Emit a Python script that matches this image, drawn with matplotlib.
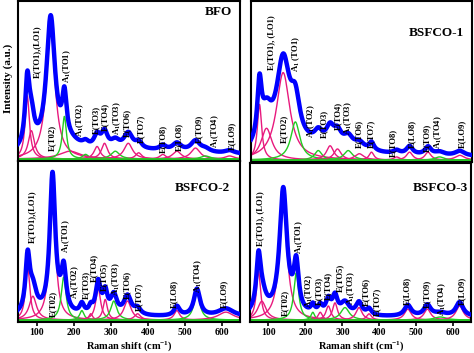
import numpy as np
import matplotlib
matplotlib.use('Agg')
import matplotlib.pyplot as plt

# Fitted Lorentzian components (centre cm-1, height, half width, colour group)
# group: 'm' = E modes (pink), 'g' = A1 modes (green)
bfo_pos = [75, 86, 138, 190, 175, 232, 263, 283, 312, 347, 375, 440, 478, 528, 555, 620]
bfo_amp = [0.40, 0.18, 0.84, 0.05, 0.27, 0.03, 0.08, 0.10, 0.05, 0.10, 0.04, 0.03, 0.05, 0.07, 0.02, 0.02]
bfo_wid = [7, 10, 14, 35, 7, 10, 10, 10, 14, 14, 10, 10, 14, 15, 15, 15]
bfo_grp = ['m', 'm', 'm', 'm', 'g', 'g', 'm', 'm', 'g', 'm', 'm', 'm', 'm', 'm', 'g', 'm']
bfo_bg = (0.025, 0.025, 380, 150)   # constant, broad hump height, centre, half width

s1_pos = [73, 92, 137, 170, 232, 264, 284, 313, 343, 376, 444, 479, 529, 560, 615]
s1_amp = [0.35, 0.20, 0.55, 0.24, 0.06, 0.09, 0.07, 0.06, 0.04, 0.05, 0.02, 0.05, 0.05, 0.02, 0.03]
s1_wid = [7, 18, 22, 15, 12, 12, 12, 14, 15, 8, 10, 10, 10, 15, 15]
s1_grp = ['m', 'm', 'm', 'g', 'g', 'm', 'm', 'g', 'm', 'm', 'm', 'm', 'm', 'g', 'm']
s1_bg = (0.02, 0.07, 260, 90)

s2_pos = [76, 90, 143, 173, 222, 246, 266, 285, 308, 345, 372, 478, 532, 610]
s2_amp = [0.34, 0.15, 0.88, 0.27, 0.06, 0.04, 0.20, 0.13, 0.12, 0.12, 0.04, 0.06, 0.17, 0.05]
s2_wid = [7, 12, 9, 8, 7, 6, 8, 7, 10, 12, 10, 9, 10, 25]
s2_grp = ['m', 'm', 'm', 'g', 'g', 'm', 'm', 'm', 'g', 'm', 'm', 'm', 'g', 'm']
s2_bg = (0.02, 0.0, 300, 100)

s3_pos = [73, 82, 140, 175, 220, 240, 262, 280, 307, 345, 372, 477, 530, 565, 617]
s3_amp = [0.31, 0.12, 0.80, 0.30, 0.05, 0.05, 0.09, 0.11, 0.08, 0.08, 0.04, 0.07, 0.07, 0.02, 0.09]
s3_wid = [7, 14, 12, 8, 6, 7, 8, 8, 14, 10, 8, 11, 11, 20, 12]
s3_grp = ['m', 'm', 'm', 'g', 'g', 'm', 'm', 'm', 'g', 'm', 'm', 'm', 'm', 'g', 'm']
s3_bg = (0.02, 0.0, 300, 100)

# Mode labels: text, x position (cm-1), bottom of label (axes fraction)
bfo_labels = [('E(TO1),(LO1)', 101, 0.52), ('E(T02)', 142, 0.06), ('A$_1$(TO1)', 182, 0.49),
              ('A$_1$(TO2)', 218, 0.15), ('E(TO3)', 261, 0.17), ('E(TO4)', 285, 0.19),
              ('A$_1$(TO3)', 318, 0.16), ('E(TO6)', 344, 0.15), ('E(TO7)', 382, 0.11),
              ('E(TO8)', 442, 0.05), ('E(LO8)', 485, 0.06), ('E(TO9)', 537, 0.11),
              ('A$_1$(TO4)', 580, 0.08), ('E(LO9)', 626, 0.07)]
s1_labels = [('E(TO1), (LO1)', 104, 0.57), ('E(TO2)', 140, 0.12), ('A$_1$ (TO1)', 172, 0.56),
             ('A$_1$(TO2)', 213, 0.15), ('E(TO3)', 248, 0.15), ('E(TO4)', 286, 0.20),
             ('A$_1$(TO3)', 313, 0.17), ('E(TO6)', 343, 0.09), ('E(TO7)', 376, 0.09),
             ('E(TO8)', 435, 0.03), ('E(LO8)', 487, 0.09), ('E(TO9)', 525, 0.06),
             ('A$_1$(TO4)', 557, 0.08), ('E(LO9)', 620, 0.09)]
s2_labels = [('E(TO1),(LO1)', 87, 0.49), ('E(T02)', 144, 0.03), ('A$_1$(TO1)', 180, 0.43),
             ('A$_1$(TO2)', 203, 0.14), ('E(TO3)', 232, 0.14), ('E(TO4)', 256, 0.25),
             ('E(TO5)', 283, 0.19), ('A$_1$(TO3)', 314, 0.16), ('E(TO6)', 345, 0.14),
             ('E(TO7)', 377, 0.07), ('E(LO8)', 471, 0.09), ('A$_1$(TO4)', 535, 0.18),
             ('E(LO9)', 605, 0.09)]
s3_labels = [('E(TO1), (LO1)', 78, 0.48), ('E(T02)', 146, 0.04), ('A$_1$(TO1)', 184, 0.43),
             ('A$_1$(TO2)', 211, 0.09), ('E(TO3)', 238, 0.11), ('E(TO4)', 262, 0.14),
             ('E(TO5)', 293, 0.19), ('A$_1$(TO3)', 325, 0.11), ('E(TO6)', 363, 0.10),
             ('E(TO7)', 393, 0.04), ('E(LO8)', 474, 0.11), ('E(TO9)', 528, 0.09),
             ('A$_1$(TO4)', 569, 0.04), ('E(LO9)', 623, 0.11)]

names = ['BFO', 'BSFCO-1', 'BSFCO-2', 'BSFCO-3']
xticks = [100, 200, 300, 400, 500, 600]

plt.rcParams['font.family'] = 'Liberation Serif'
plt.rcParams['font.weight'] = 'bold'
plt.rcParams['mathtext.fontset'] = 'custom'
plt.rcParams['mathtext.rm'] = 'Liberation Serif:bold'
plt.rcParams['mathtext.it'] = 'Liberation Serif:bold'
plt.rcParams['mathtext.bf'] = 'Liberation Serif:bold'

W, H = 474, 353
fig = plt.figure(figsize=(W / 100, H / 100), dpi=100)


def px_axes(l, t, r, b):
    return fig.add_axes([l / W, 1 - b / H, (r - l) / W, (b - t) / H])


axes = [px_axes(18, 1, 240, 161), px_axes(251, 1, 472, 162),
        px_axes(18, 161, 240, 322), px_axes(250, 163, 471, 322)]

panels = [(bfo_pos, bfo_amp, bfo_wid, bfo_grp, bfo_bg, bfo_labels),
          (s1_pos, s1_amp, s1_wid, s1_grp, s1_bg, s1_labels),
          (s2_pos, s2_amp, s2_wid, s2_grp, s2_bg, s2_labels),
          (s3_pos, s3_amp, s3_wid, s3_grp, s3_bg, s3_labels)]
title_pos = [(0.965, 0.93), (0.965, 0.80), (0.955, 0.83), (0.985, 0.84)]

x = np.linspace(50, 650, 1500)
colors = {'m': '#e8197d', 'g': '#22cc22'}

for i, ax in enumerate(axes):
    pos, amp, wid, grp, bg, labels = panels[i]
    b0, bh, bc, bw = bg
    total = b0 + bh / (1 + ((x - bc) / bw) ** 2)
    for c, a, w, g in zip(pos, amp, wid, grp):
        comp = a / (1 + ((x - c) / w) ** 2)
        total = total + comp
        ax.plot(x, comp, color=colors[g], lw=1.0, zorder=2)
    ax.axhline(0, color='#22cc22', lw=2, zorder=2)
    ax.plot(x, total, color='black', lw=1.3, zorder=3)
    ax.plot(x, total, color='#0000ff', lw=3.2, zorder=4)
    for txt, lx, ly in labels:
        ax.text(lx, ly, txt, rotation=90, ha='center', va='bottom', fontsize=6.2,
                transform=ax.get_xaxis_transform(), zorder=5)
    tx, ty = title_pos[i]
    ax.text(tx, ty, names[i], transform=ax.transAxes, ha='right', va='center', fontsize=9.5)
    ax.set_xlim(50, 648)
    ax.set_ylim(-0.012, 1)
    ax.set_yticks([])
    ax.set_xticks(xticks)
    ax.tick_params(axis='x', direction='out', length=3, width=1.2, labelsize=7, pad=1.5)
    if i < 2:
        ax.set_xticklabels([])
    for sp in ax.spines.values():
        sp.set_linewidth(1.5)

fig.text(8 / W, 1 - 78 / H, 'Intensity (a.u.)', rotation=90, ha='center', va='center', fontsize=8)
fig.text(129 / W, 1 - 346 / H, 'Raman shift (cm$^{-1}$)', ha='center', va='center', fontsize=7.5)
fig.text(361 / W, 1 - 346 / H, 'Raman shift (cm$^{-1}$)', ha='center', va='center', fontsize=7.5)

fig.savefig('out.png', dpi=100)
